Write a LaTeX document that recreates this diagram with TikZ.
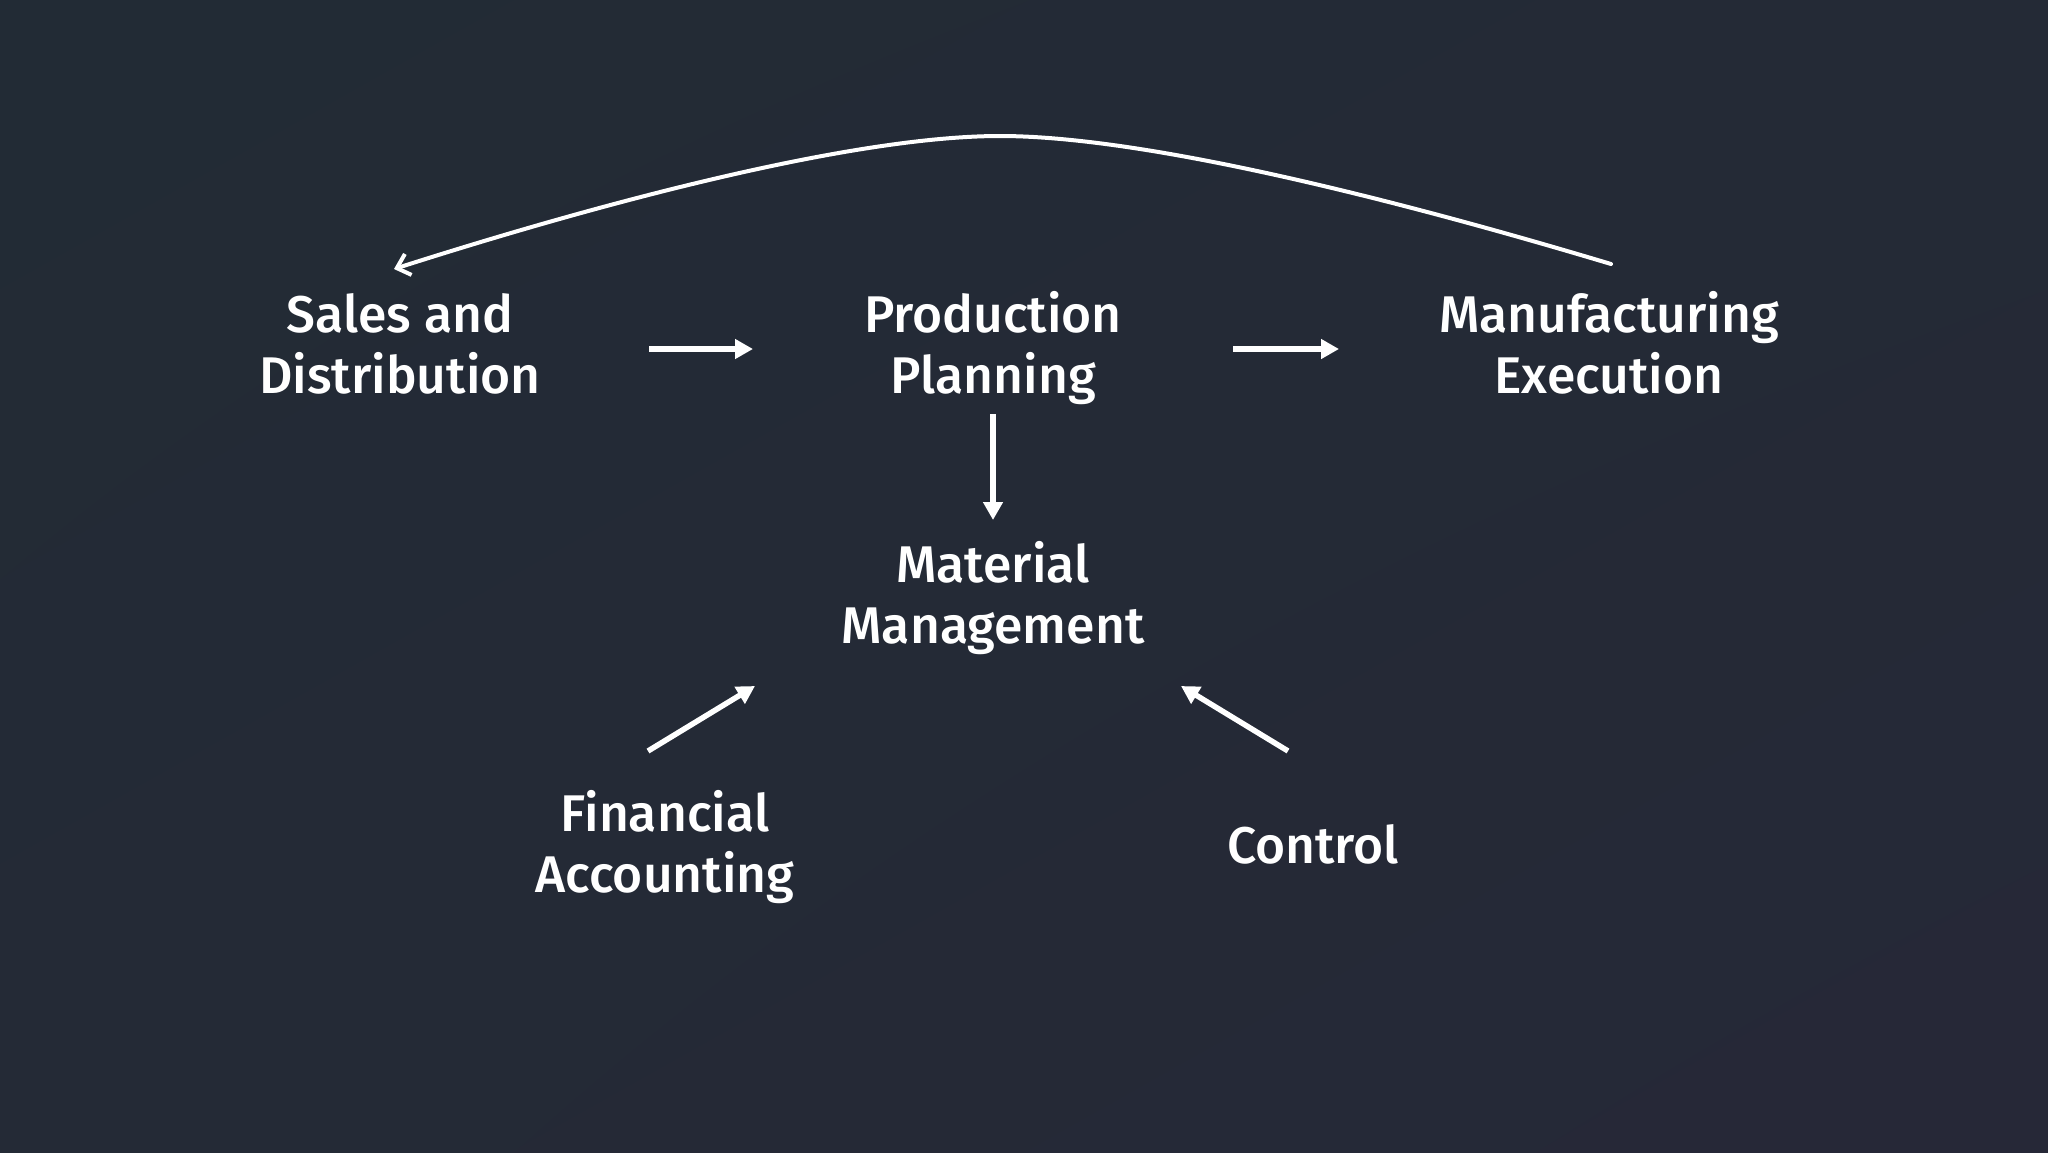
\documentclass[tikz,border=0pt]{standalone}
\usepackage{fontspec}
\setmainfont{Fira Sans}[UprightFont={* Medium}]
\usetikzlibrary{arrows.meta,calc,shadings}
\definecolor{bgtl}{HTML}{222B35}
\definecolor{bgbr}{HTML}{262837}
\definecolor{bgmid}{HTML}{242A36}
\definecolor{fg}{HTML}{FFFFFF}
\tikzset{
  lbl/.style={text=fg,align=center,inner sep=0pt,font=\fontsize{25.8}{30.5}\selectfont},
  flow/.style={draw=fg,line width=2.75pt,-{Triangle[length=9pt,width=9.5pt]}},
  loopback/.style={draw=fg,line width=2pt,line cap=round,-{Straight Barb[length=6pt,width=11pt,line width=2pt]}}
}
\begin{document}
\begin{tikzpicture}[x=0.5pt,y=-0.5pt]
\shade[upper left=bgtl,lower right=bgbr,upper right=bgmid,lower left=bgmid] (0,0) rectangle (2048,1152);
\useasboundingbox (0,0) rectangle (2048,1152);

\node[lbl] (sd)  at (400,351)  {Sales and\strut\\Distribution\strut};
\node[lbl] (pp)  at (993,351)  {Production\strut\\Planning\strut};
\node[lbl] (me)  at (1609,351) {Manufacturing\strut\\Execution\strut};
\node[lbl] (mm)  at (993,601)  {Material\strut\\Management\strut};
\node[lbl] (fa)  at (665,850)  {Financial\strut\\Accounting\strut};
\node[lbl] (ctl) at (1313,851) {Control\strut};

\draw[flow] ($(sd.center)+(249,-2)$) -- ($(pp.center)+(-240,-2)$);
\draw[flow] ($(pp.center)+(240,-2)$) -- ($(me.center)+(-270,-2)$);
\draw[flow] ($(pp.center)+(0,63)$) -- ($(mm.center)+(0,-81)$);
\draw[flow] ($(fa.center)+(-17,-99)$) -- ($(mm.center)+(-238,85)$);
\draw[flow] ($(ctl.center)+(-25,-100)$) -- ($(mm.center)+(188,85)$);

\coordinate (top) at (1000,136);
\draw[loopback] ($(me.center)+(2,-87)$) .. controls (1411,204) and (1150,136) .. (top)
  .. controls (850,136) and (594,205) .. ($(sd.center)+(-6,-82)$);
\end{tikzpicture}
\end{document}
